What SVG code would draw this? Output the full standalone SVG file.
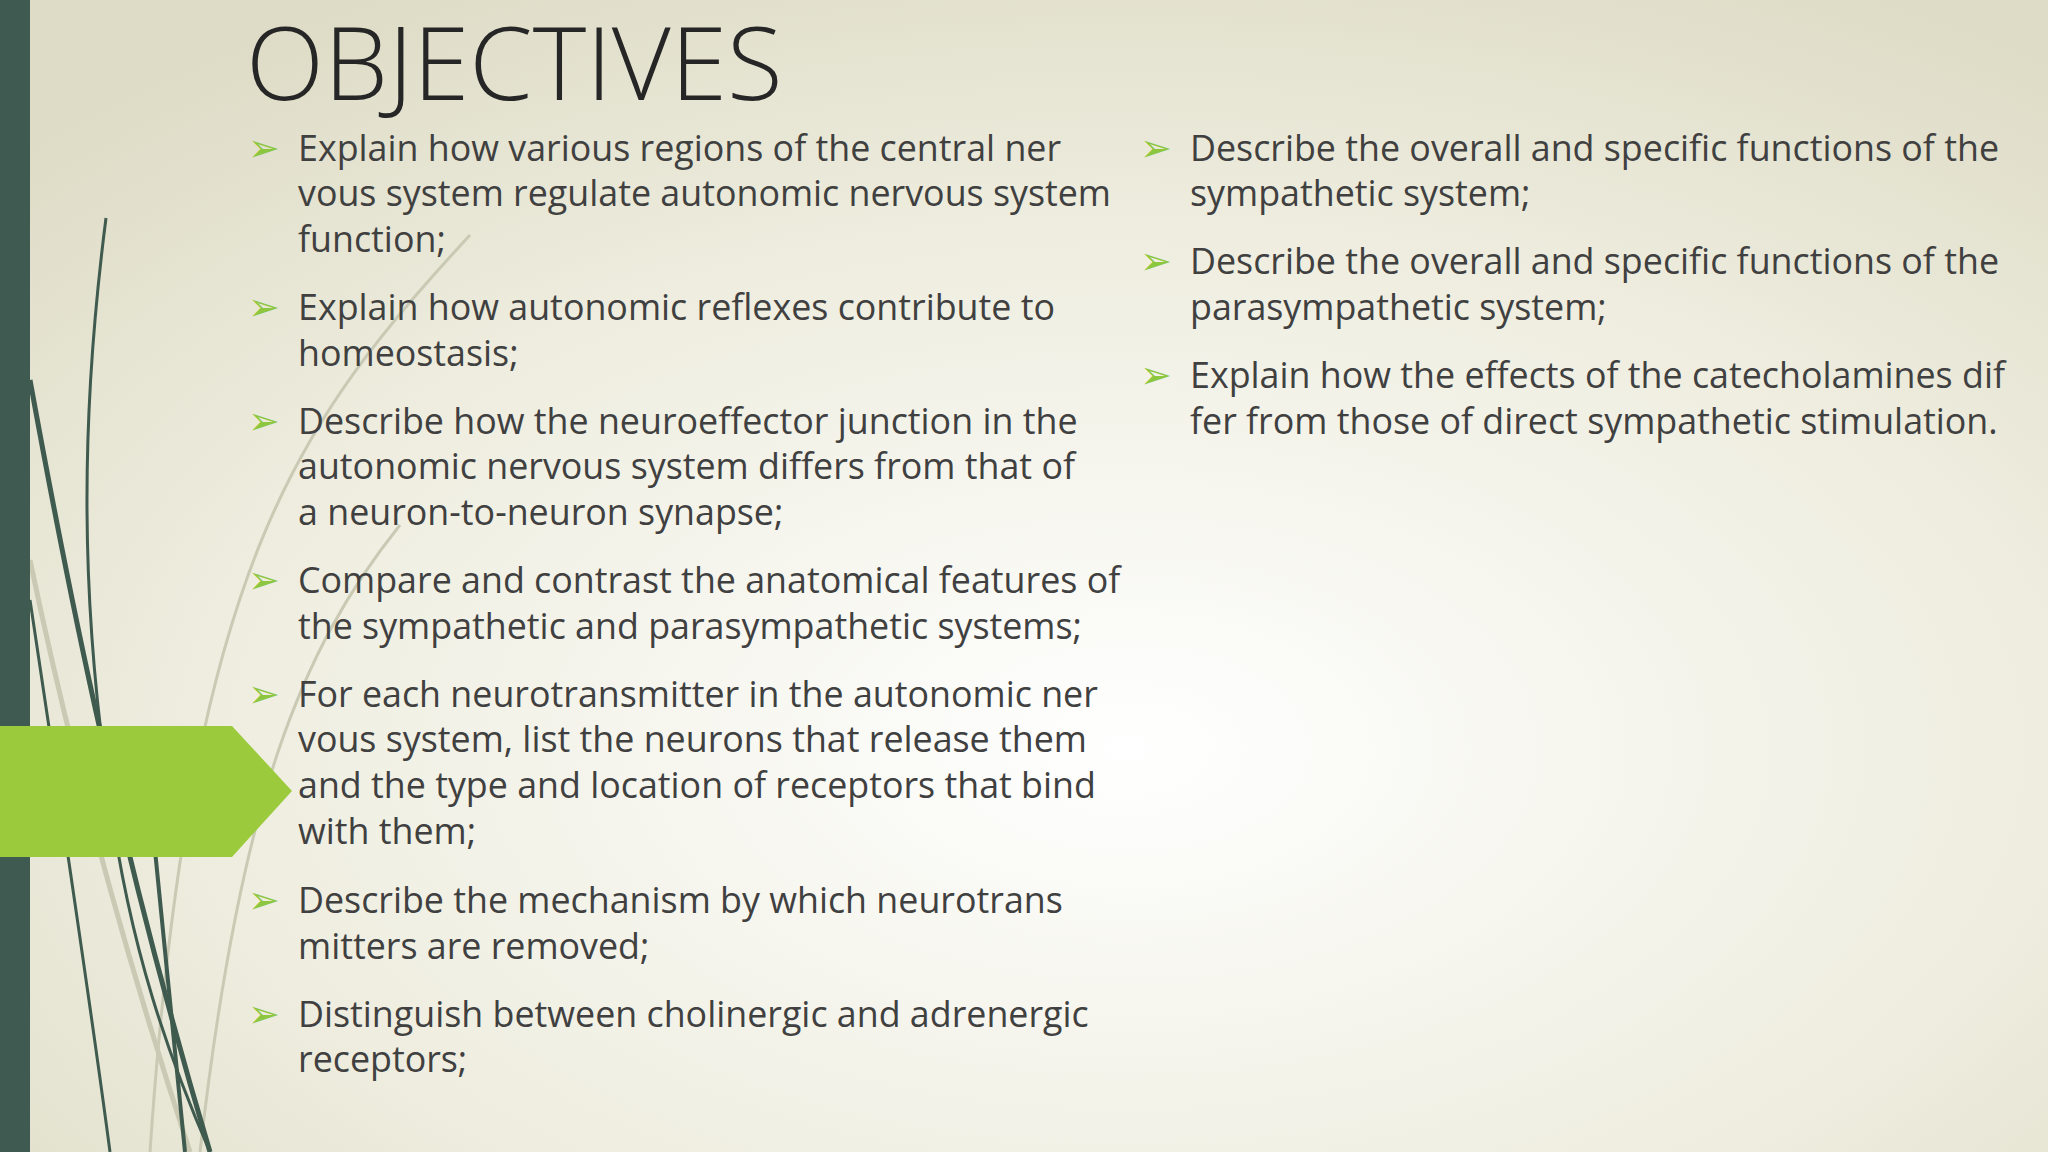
<svg xmlns="http://www.w3.org/2000/svg" width="2048" height="1152" viewBox="0 0 2048 1152">
<defs>
<radialGradient id="bg" cx="0.55" cy="0.65" r="0.75">
<stop offset="0" stop-color="#ffffff"/>
<stop offset="0.6" stop-color="#eeeddf"/>
<stop offset="1" stop-color="#dedcc6"/>
</radialGradient>
<style>
.t{font-family:"Open Sans","Noto Sans",sans-serif;font-size:35.8px;fill:#404040}
.b{font-family:"DejaVu Sans",sans-serif;font-size:38px;fill:#8dc63f}
.c{fill:none;stroke:#3f5a4e}
.l{fill:none;stroke:#c9c9b4}
</style>
</defs>
<rect width="2048" height="1152" fill="url(#bg)"/>
<g id="decor">
<path class="l" stroke-width="3" d="M470 235 C300 420 190 560 150 1152"/>
<path class="l" stroke-width="5" d="M30 560 C80 800 140 1000 190 1152"/>
<path class="l" stroke-width="3" d="M400 525 C300 650 240 800 200 1152"/>
<path class="c" stroke-width="3" d="M106 218 C80 420 80 600 110 800 C130 950 170 1060 210 1152"/>
<path class="c" stroke-width="5" d="M30 380 C70 600 120 850 210 1152"/>
<path class="c" stroke-width="3" d="M30 600 C60 800 90 1000 110 1152"/>
<path class="c" stroke-width="4" d="M150 800 C165 950 175 1050 185 1152"/>
<rect x="0" y="0" width="30" height="1152" fill="#3f5a50"/>
<polygon points="0,726 232,726 292,791 232,857 0,857" fill="#9bcb3c"/>
</g>
<text x="246" y="100" font-family="Open Sans, sans-serif" font-weight="300" font-size="102" fill="#262626">OBJECTIVES</text>
<g id="left">
<text class="b" x="248" y="161">➢</text>
<text class="t" x="298" y="161">Explain how various regions of the central ner</text>
<text class="t" x="298" y="206">vous system regulate autonomic nervous system</text>
<text class="t" x="298" y="252">function;</text>
<text class="b" x="248" y="320">➢</text>
<text class="t" x="298" y="320">Explain how autonomic reflexes contribute to</text>
<text class="t" x="298" y="366">homeostasis;</text>
<text class="b" x="248" y="434">➢</text>
<text class="t" x="298" y="434">Describe how the neuroeffector junction in the</text>
<text class="t" x="298" y="479">autonomic nervous system differs from that of</text>
<text class="t" x="298" y="525">a neuron-to-neuron synapse;</text>
<text class="b" x="248" y="593">➢</text>
<text class="t" x="298" y="593">Compare and contrast the anatomical features of</text>
<text class="t" x="298" y="639">the sympathetic and parasympathetic systems;</text>
<text class="b" x="248" y="707">➢</text>
<text class="t" x="298" y="707">For each neurotransmitter in the autonomic ner</text>
<text class="t" x="298" y="752">vous system, list the neurons that release them</text>
<text class="t" x="298" y="798">and the type and location of receptors that bind</text>
<text class="t" x="298" y="844">with them;</text>
<text class="b" x="248" y="913">➢</text>
<text class="t" x="298" y="913">Describe the mechanism by which neurotrans</text>
<text class="t" x="298" y="959">mitters are removed;</text>
<text class="b" x="248" y="1027">➢</text>
<text class="t" x="298" y="1027">Distinguish between cholinergic and adrenergic</text>
<text class="t" x="298" y="1072">receptors;</text>
</g>
<g id="right">
<text class="b" x="1140" y="161">➢</text>
<text class="t" x="1190" y="161">Describe the overall and specific functions of the</text>
<text class="t" x="1190" y="206">sympathetic system;</text>
<text class="b" x="1140" y="274">➢</text>
<text class="t" x="1190" y="274">Describe the overall and specific functions of the</text>
<text class="t" x="1190" y="320">parasympathetic system;</text>
<text class="b" x="1140" y="388">➢</text>
<text class="t" x="1190" y="388">Explain how the effects of the catecholamines dif</text>
<text class="t" x="1190" y="434">fer from those of direct sympathetic stimulation.</text>
</g>
</svg>
